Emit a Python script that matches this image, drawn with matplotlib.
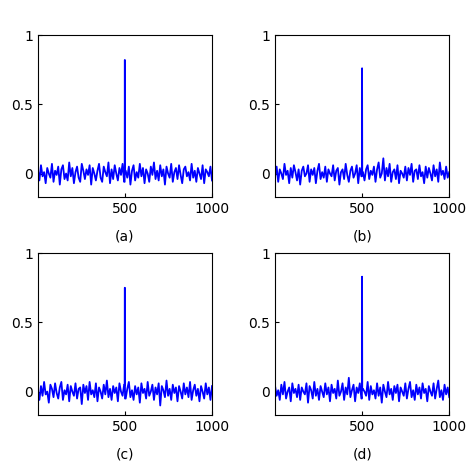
import matplotlib
matplotlib.use("Agg")
import matplotlib.pyplot as plt
import numpy as np

labels = ["(a)", "(b)", "(c)", "(d)"]
peak_x = 500
peak_y = [0.82, 0.76, 0.75, 0.83]
noise_a = [0.03,-0.05,0.06,-0.02,0.01,-0.07,0.04,0.00,-0.03,0.07,-0.06,0.02,-0.01,0.05,-0.08,0.03,
           0.06,-0.04,0.00,-0.05,0.08,-0.02,0.04,-0.07,0.01,0.05,-0.03,-0.06,0.07,0.02,-0.04,0.03,
           -0.01,0.06,-0.08,0.04,0.00,-0.05,0.02,0.07,-0.03,-0.06,0.05,0.01,-0.02,0.08,-0.07,0.03,
           -0.04,0.06,0.00,-0.05,0.04,-0.01,0.07,-0.06,0.02,-0.03,0.05,-0.08,0.02,0.06,-0.05,0.01,
           -0.03,0.07,-0.02,0.04,-0.07,0.03,0.00,-0.06,0.05,-0.01,0.08,-0.04,0.02,-0.05,0.06,-0.02,
           0.03,-0.08,0.05,0.00,-0.03,0.07,-0.06,0.01,0.04,-0.04,0.06,-0.01,-0.07,0.03,0.05,-0.02,
           0.01,-0.05,0.07,-0.03,0.02,-0.06,0.04,0.00,-0.04,0.06,-0.07,0.03,0.01,-0.02,0.05,-0.05]
noise_b = [-0.02,0.05,-0.06,0.03,0.00,-0.04,0.07,-0.01,0.02,-0.07,0.04,-0.03,0.06,0.01,-0.05,0.03,
           -0.08,0.02,0.05,-0.02,0.00,0.06,-0.06,0.03,-0.01,0.04,-0.07,0.02,0.07,-0.04,0.01,-0.03,
           0.05,-0.06,0.03,0.00,-0.02,0.06,-0.05,0.02,0.04,-0.08,0.01,0.03,-0.04,0.07,-0.01,-0.06,
           0.02,0.05,-0.03,0.00,0.06,-0.07,0.04,-0.02,0.01,-0.05,0.03,0.06,-0.04,0.02,-0.01,0.05,
           -0.06,0.03,0.08,-0.03,0.00,0.11,-0.05,0.04,-0.02,0.07,-0.06,0.01,0.03,-0.04,0.06,-0.07,
           0.02,0.00,-0.03,0.05,-0.05,0.04,-0.01,0.07,-0.06,0.02,0.03,-0.04,0.06,-0.02,0.01,-0.07,
           0.05,-0.03,0.04,0.00,-0.05,0.06,-0.02,0.03,-0.06,0.08,-0.01,0.02,-0.04,0.05,-0.03,0.01]
noise_c = [0.01,-0.06,0.04,-0.03,0.07,-0.02,0.00,-0.08,0.05,0.02,-0.04,0.06,-0.01,-0.05,0.03,0.07,
           -0.06,0.01,-0.02,0.05,-0.07,0.04,0.00,-0.03,0.06,-0.05,0.02,0.03,-0.09,0.05,-0.01,0.04,
           -0.06,0.07,-0.02,0.01,-0.04,0.06,-0.07,0.03,0.00,-0.05,0.05,-0.02,0.08,-0.04,0.02,-0.06,
           0.04,-0.01,0.03,-0.07,0.06,0.00,-0.03,0.05,-0.05,0.02,0.07,-0.04,0.01,-0.06,0.04,-0.02,
           0.03,-0.08,0.06,-0.01,0.02,-0.05,0.07,-0.03,0.00,0.05,-0.06,0.03,-0.02,0.06,-0.10,0.04,
           0.01,-0.04,0.08,-0.03,0.02,-0.06,0.05,-0.01,0.03,-0.07,0.04,0.00,-0.05,0.06,-0.02,0.03,
           -0.04,0.07,-0.06,0.01,0.05,-0.03,0.02,-0.07,0.04,0.00,-0.05,0.06,-0.02,0.03,-0.06,0.04]
noise_d = [0.04,-0.03,0.01,-0.06,0.05,-0.02,0.07,-0.05,0.00,0.03,-0.07,0.06,-0.01,0.02,-0.04,0.05,
           -0.06,0.03,0.00,-0.02,0.06,-0.08,0.04,0.01,-0.05,0.07,-0.03,0.02,-0.06,0.04,0.00,-0.04,
           0.06,-0.02,0.03,-0.07,0.05,-0.01,0.02,-0.05,0.08,-0.03,0.00,0.06,-0.06,0.03,-0.02,0.10,
           -0.04,0.01,0.05,-0.07,0.03,-0.01,0.06,-0.05,0.02,0.00,-0.03,0.07,-0.06,0.04,-0.02,0.01,
           -0.05,0.06,-0.03,0.03,-0.08,0.05,0.00,-0.04,0.07,-0.02,0.02,-0.06,0.04,-0.01,0.05,-0.07,
           0.03,0.00,-0.03,0.06,-0.05,0.02,0.07,-0.04,0.01,-0.06,0.05,-0.02,0.03,-0.05,0.06,-0.01,
           0.02,-0.07,0.04,0.00,-0.03,0.06,-0.05,0.02,0.08,-0.04,0.01,-0.06,0.05,-0.02,0.03,-0.04]
noise = [noise_a, noise_b, noise_c, noise_d]

fig = plt.figure(figsize=(4.67, 4.67), dpi=100)
pos = [(0.081, 0.578), (0.589, 0.578), (0.081, 0.111), (0.589, 0.111)]
for k in range(4):
    ax = fig.add_axes([pos[k][0], pos[k][1], 0.373, 0.347])
    n = len(noise[k])
    nx = np.linspace(1, 1000, n)
    half = n // 2
    xs = list(nx[:half]) + [peak_x - 1, peak_x, peak_x + 1] + list(nx[half:])
    ys = noise[k][:half] + [noise[k][half - 1], peak_y[k], noise[k][half]] + noise[k][half:]
    ax.plot(xs, ys, color="#0000ff", lw=1.3)
    ax.set_xlim(1, 1000)
    ax.set_ylim(-0.17, 1)
    ax.set_xticks([500, 1000])
    ax.set_yticks([0, 0.5, 1])
    ax.set_yticklabels(["0", "0.5", "1"])
    ax.tick_params(direction="in", labelsize=10, length=3)
    ax.set_xlabel(labels[k], fontsize=10, labelpad=10)
fig.savefig("out.png", dpi=100)
